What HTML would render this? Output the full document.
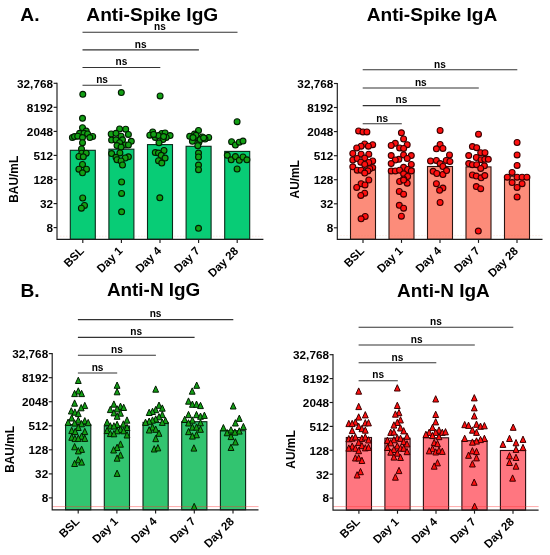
<!DOCTYPE html>
<html lang="en"><head><meta charset="utf-8"><title>Antibody titers</title>
<style>html,body{margin:0;padding:0;background:#fff}svg{display:block}text{font-family:"Liberation Sans", sans-serif;font-weight:bold;fill:#000}.t{font-size:19.4px}.yl{font-size:11.9px}.yt{font-size:11.75px}.xt{font-size:11.5px}.ns{font-size:10.1px}.pl{font-size:19.2px}</style></head><body>
<svg width="550" height="555" viewBox="0 0 550 555">
<rect width="550" height="555" fill="#fff"/>
<g>
<rect x="70.3" y="150.3" width="25" height="89" fill="#08cc76" stroke="#0a2a1a" stroke-width="1.1"/>
<rect x="108.9" y="149.2" width="25" height="90.1" fill="#08cc76" stroke="#0a2a1a" stroke-width="1.1"/>
<rect x="147.5" y="144.6" width="25" height="94.7" fill="#08cc76" stroke="#0a2a1a" stroke-width="1.1"/>
<rect x="186.1" y="146.3" width="25" height="93" fill="#08cc76" stroke="#0a2a1a" stroke-width="1.1"/>
<rect x="224.7" y="151.4" width="25" height="87.9" fill="#08cc76" stroke="#0a2a1a" stroke-width="1.1"/>
<line x1="57" y1="236.2" x2="263.4" y2="236.2" stroke="#e8503a" stroke-width="0.8" stroke-opacity="0.16" stroke-dasharray="1.5 1.5"/>
<circle cx="82.8" cy="94.3" r="2.95" fill="#12a014" stroke="#021c02" stroke-width="1.1"/>
<circle cx="82.5" cy="118.3" r="2.95" fill="#12a014" stroke="#021c02" stroke-width="1.1"/>
<circle cx="82.5" cy="127.7" r="2.95" fill="#12a014" stroke="#021c02" stroke-width="1.1"/>
<circle cx="86.2" cy="131.1" r="2.95" fill="#12a014" stroke="#021c02" stroke-width="1.1"/>
<circle cx="79.6" cy="133.3" r="2.95" fill="#12a014" stroke="#021c02" stroke-width="1.1"/>
<circle cx="84" cy="133.3" r="2.95" fill="#12a014" stroke="#021c02" stroke-width="1.1"/>
<circle cx="87.6" cy="134" r="2.95" fill="#12a014" stroke="#021c02" stroke-width="1.1"/>
<circle cx="92.7" cy="136.5" r="2.95" fill="#12a014" stroke="#021c02" stroke-width="1.1"/>
<circle cx="72.4" cy="137.6" r="2.95" fill="#12a014" stroke="#021c02" stroke-width="1.1"/>
<circle cx="74.5" cy="136.6" r="2.95" fill="#12a014" stroke="#021c02" stroke-width="1.1"/>
<circle cx="77.7" cy="136.2" r="2.95" fill="#12a014" stroke="#021c02" stroke-width="1.1"/>
<circle cx="82.5" cy="137.6" r="2.95" fill="#12a014" stroke="#021c02" stroke-width="1.1"/>
<circle cx="89.8" cy="137.6" r="2.95" fill="#12a014" stroke="#021c02" stroke-width="1.1"/>
<circle cx="82.5" cy="142.7" r="2.95" fill="#12a014" stroke="#021c02" stroke-width="1.1"/>
<circle cx="81.5" cy="149" r="2.95" fill="#12a014" stroke="#021c02" stroke-width="1.1"/>
<circle cx="81.8" cy="153.2" r="2.95" fill="#12a014" stroke="#021c02" stroke-width="1.1"/>
<circle cx="86.2" cy="153.2" r="2.95" fill="#12a014" stroke="#021c02" stroke-width="1.1"/>
<circle cx="78.9" cy="156.5" r="2.95" fill="#12a014" stroke="#021c02" stroke-width="1.1"/>
<circle cx="83.3" cy="156.8" r="2.95" fill="#12a014" stroke="#021c02" stroke-width="1.1"/>
<circle cx="82.5" cy="164.5" r="2.95" fill="#12a014" stroke="#021c02" stroke-width="1.1"/>
<circle cx="78.9" cy="169.2" r="2.95" fill="#12a014" stroke="#021c02" stroke-width="1.1"/>
<circle cx="86.5" cy="169.2" r="2.95" fill="#12a014" stroke="#021c02" stroke-width="1.1"/>
<circle cx="82.5" cy="172.8" r="2.95" fill="#12a014" stroke="#021c02" stroke-width="1.1"/>
<circle cx="82.7" cy="198" r="2.95" fill="#12a014" stroke="#021c02" stroke-width="1.1"/>
<circle cx="84.5" cy="205.4" r="2.95" fill="#12a014" stroke="#021c02" stroke-width="1.1"/>
<circle cx="81.4" cy="208.2" r="2.95" fill="#12a014" stroke="#021c02" stroke-width="1.1"/>
<circle cx="121.3" cy="92.6" r="2.95" fill="#12a014" stroke="#021c02" stroke-width="1.1"/>
<circle cx="119.6" cy="128.9" r="2.95" fill="#12a014" stroke="#021c02" stroke-width="1.1"/>
<circle cx="125.7" cy="129.2" r="2.95" fill="#12a014" stroke="#021c02" stroke-width="1.1"/>
<circle cx="111.2" cy="134" r="2.95" fill="#12a014" stroke="#021c02" stroke-width="1.1"/>
<circle cx="116" cy="133.3" r="2.95" fill="#12a014" stroke="#021c02" stroke-width="1.1"/>
<circle cx="128.4" cy="134.4" r="2.95" fill="#12a014" stroke="#021c02" stroke-width="1.1"/>
<circle cx="121.1" cy="136.2" r="2.95" fill="#12a014" stroke="#021c02" stroke-width="1.1"/>
<circle cx="111.6" cy="140.1" r="2.95" fill="#12a014" stroke="#021c02" stroke-width="1.1"/>
<circle cx="116" cy="139.8" r="2.95" fill="#12a014" stroke="#021c02" stroke-width="1.1"/>
<circle cx="122.5" cy="139.8" r="2.95" fill="#12a014" stroke="#021c02" stroke-width="1.1"/>
<circle cx="131.3" cy="141.3" r="2.95" fill="#12a014" stroke="#021c02" stroke-width="1.1"/>
<circle cx="119.6" cy="142.7" r="2.95" fill="#12a014" stroke="#021c02" stroke-width="1.1"/>
<circle cx="125.5" cy="144.9" r="2.95" fill="#12a014" stroke="#021c02" stroke-width="1.1"/>
<circle cx="117" cy="145.6" r="2.95" fill="#12a014" stroke="#021c02" stroke-width="1.1"/>
<circle cx="121.1" cy="147.1" r="2.95" fill="#12a014" stroke="#021c02" stroke-width="1.1"/>
<circle cx="128.4" cy="144.9" r="2.95" fill="#12a014" stroke="#021c02" stroke-width="1.1"/>
<circle cx="119.9" cy="152.9" r="2.95" fill="#12a014" stroke="#021c02" stroke-width="1.1"/>
<circle cx="111.6" cy="153.6" r="2.95" fill="#12a014" stroke="#021c02" stroke-width="1.1"/>
<circle cx="116" cy="157.3" r="2.95" fill="#12a014" stroke="#021c02" stroke-width="1.1"/>
<circle cx="128.4" cy="156.8" r="2.95" fill="#12a014" stroke="#021c02" stroke-width="1.1"/>
<circle cx="125.2" cy="158" r="2.95" fill="#12a014" stroke="#021c02" stroke-width="1.1"/>
<circle cx="117" cy="159.7" r="2.95" fill="#12a014" stroke="#021c02" stroke-width="1.1"/>
<circle cx="121.1" cy="160.9" r="2.95" fill="#12a014" stroke="#021c02" stroke-width="1.1"/>
<circle cx="122.5" cy="165" r="2.95" fill="#12a014" stroke="#021c02" stroke-width="1.1"/>
<circle cx="121.6" cy="182" r="2.95" fill="#12a014" stroke="#021c02" stroke-width="1.1"/>
<circle cx="121.6" cy="193.4" r="2.95" fill="#12a014" stroke="#021c02" stroke-width="1.1"/>
<circle cx="121.6" cy="211.8" r="2.95" fill="#12a014" stroke="#021c02" stroke-width="1.1"/>
<circle cx="160.1" cy="95.9" r="2.95" fill="#12a014" stroke="#021c02" stroke-width="1.1"/>
<circle cx="152.7" cy="131.9" r="2.95" fill="#12a014" stroke="#021c02" stroke-width="1.1"/>
<circle cx="149.8" cy="135.2" r="2.95" fill="#12a014" stroke="#021c02" stroke-width="1.1"/>
<circle cx="155.3" cy="137.4" r="2.95" fill="#12a014" stroke="#021c02" stroke-width="1.1"/>
<circle cx="161.8" cy="133.4" r="2.95" fill="#12a014" stroke="#021c02" stroke-width="1.1"/>
<circle cx="165.1" cy="133" r="2.95" fill="#12a014" stroke="#021c02" stroke-width="1.1"/>
<circle cx="170.1" cy="135.6" r="2.95" fill="#12a014" stroke="#021c02" stroke-width="1.1"/>
<circle cx="166.2" cy="137.4" r="2.95" fill="#12a014" stroke="#021c02" stroke-width="1.1"/>
<circle cx="162.9" cy="139.5" r="2.95" fill="#12a014" stroke="#021c02" stroke-width="1.1"/>
<circle cx="159" cy="142.8" r="2.95" fill="#12a014" stroke="#021c02" stroke-width="1.1"/>
<circle cx="164" cy="150.5" r="2.95" fill="#12a014" stroke="#021c02" stroke-width="1.1"/>
<circle cx="155.3" cy="152.6" r="2.95" fill="#12a014" stroke="#021c02" stroke-width="1.1"/>
<circle cx="158.5" cy="153.1" r="2.95" fill="#12a014" stroke="#021c02" stroke-width="1.1"/>
<circle cx="161.2" cy="155.3" r="2.95" fill="#12a014" stroke="#021c02" stroke-width="1.1"/>
<circle cx="165.1" cy="158.1" r="2.95" fill="#12a014" stroke="#021c02" stroke-width="1.1"/>
<circle cx="158.5" cy="160.7" r="2.95" fill="#12a014" stroke="#021c02" stroke-width="1.1"/>
<circle cx="161.8" cy="163.1" r="2.95" fill="#12a014" stroke="#021c02" stroke-width="1.1"/>
<circle cx="159.8" cy="197.8" r="2.95" fill="#12a014" stroke="#021c02" stroke-width="1.1"/>
<circle cx="158.3" cy="135.6" r="2.95" fill="#12a014" stroke="#021c02" stroke-width="1.1"/>
<circle cx="153.6" cy="134.4" r="2.95" fill="#12a014" stroke="#021c02" stroke-width="1.1"/>
<circle cx="163.6" cy="136.6" r="2.95" fill="#12a014" stroke="#021c02" stroke-width="1.1"/>
<circle cx="198.5" cy="130.4" r="2.95" fill="#12a014" stroke="#021c02" stroke-width="1.1"/>
<circle cx="194.5" cy="134.1" r="2.95" fill="#12a014" stroke="#021c02" stroke-width="1.1"/>
<circle cx="189.7" cy="136.3" r="2.95" fill="#12a014" stroke="#021c02" stroke-width="1.1"/>
<circle cx="197.2" cy="137.4" r="2.95" fill="#12a014" stroke="#021c02" stroke-width="1.1"/>
<circle cx="202.2" cy="136.9" r="2.95" fill="#12a014" stroke="#021c02" stroke-width="1.1"/>
<circle cx="208.7" cy="137.4" r="2.95" fill="#12a014" stroke="#021c02" stroke-width="1.1"/>
<circle cx="205" cy="139.1" r="2.95" fill="#12a014" stroke="#021c02" stroke-width="1.1"/>
<circle cx="192.4" cy="141.3" r="2.95" fill="#12a014" stroke="#021c02" stroke-width="1.1"/>
<circle cx="198.9" cy="142.2" r="2.95" fill="#12a014" stroke="#021c02" stroke-width="1.1"/>
<circle cx="197.8" cy="145.7" r="2.95" fill="#12a014" stroke="#021c02" stroke-width="1.1"/>
<circle cx="198.5" cy="153.1" r="2.95" fill="#12a014" stroke="#021c02" stroke-width="1.1"/>
<circle cx="198.5" cy="157" r="2.95" fill="#12a014" stroke="#021c02" stroke-width="1.1"/>
<circle cx="198.5" cy="165.1" r="2.95" fill="#12a014" stroke="#021c02" stroke-width="1.1"/>
<circle cx="198.5" cy="169.7" r="2.95" fill="#12a014" stroke="#021c02" stroke-width="1.1"/>
<circle cx="198.5" cy="228.3" r="2.95" fill="#12a014" stroke="#021c02" stroke-width="1.1"/>
<circle cx="196" cy="135.3" r="2.95" fill="#12a014" stroke="#021c02" stroke-width="1.1"/>
<circle cx="200.2" cy="139.6" r="2.95" fill="#12a014" stroke="#021c02" stroke-width="1.1"/>
<circle cx="203.6" cy="137.8" r="2.95" fill="#12a014" stroke="#021c02" stroke-width="1.1"/>
<circle cx="193" cy="137.6" r="2.95" fill="#12a014" stroke="#021c02" stroke-width="1.1"/>
<circle cx="237.1" cy="121.7" r="2.95" fill="#12a014" stroke="#021c02" stroke-width="1.1"/>
<circle cx="231.6" cy="141.7" r="2.95" fill="#12a014" stroke="#021c02" stroke-width="1.1"/>
<circle cx="235.4" cy="145" r="2.95" fill="#12a014" stroke="#021c02" stroke-width="1.1"/>
<circle cx="239.3" cy="142.2" r="2.95" fill="#12a014" stroke="#021c02" stroke-width="1.1"/>
<circle cx="243" cy="141.1" r="2.95" fill="#12a014" stroke="#021c02" stroke-width="1.1"/>
<circle cx="227.3" cy="155.3" r="2.95" fill="#12a014" stroke="#021c02" stroke-width="1.1"/>
<circle cx="231.2" cy="159.8" r="2.95" fill="#12a014" stroke="#021c02" stroke-width="1.1"/>
<circle cx="235.4" cy="156.6" r="2.95" fill="#12a014" stroke="#021c02" stroke-width="1.1"/>
<circle cx="239.3" cy="160.3" r="2.95" fill="#12a014" stroke="#021c02" stroke-width="1.1"/>
<circle cx="243" cy="157" r="2.95" fill="#12a014" stroke="#021c02" stroke-width="1.1"/>
<circle cx="246.9" cy="159.8" r="2.95" fill="#12a014" stroke="#021c02" stroke-width="1.1"/>
<circle cx="237.1" cy="169" r="2.95" fill="#12a014" stroke="#021c02" stroke-width="1.1"/>
<path d="M57 82.7V239.3H263.4" fill="none" stroke="#1c1c1c" stroke-width="1.15"/>
<line x1="53.6" y1="83.3" x2="57" y2="83.3" stroke="#1c1c1c" stroke-width="1.15"/>
<text class="yt" x="53" y="87.6" text-anchor="end">32,768</text>
<line x1="53.6" y1="107.3" x2="57" y2="107.3" stroke="#1c1c1c" stroke-width="1.15"/>
<text class="yt" x="53" y="111.6" text-anchor="end">8192</text>
<line x1="53.6" y1="131.4" x2="57" y2="131.4" stroke="#1c1c1c" stroke-width="1.15"/>
<text class="yt" x="53" y="135.7" text-anchor="end">2048</text>
<line x1="53.6" y1="155.4" x2="57" y2="155.4" stroke="#1c1c1c" stroke-width="1.15"/>
<text class="yt" x="53" y="159.8" text-anchor="end">512</text>
<line x1="53.6" y1="179.5" x2="57" y2="179.5" stroke="#1c1c1c" stroke-width="1.15"/>
<text class="yt" x="53" y="183.8" text-anchor="end">128</text>
<line x1="53.6" y1="203.6" x2="57" y2="203.6" stroke="#1c1c1c" stroke-width="1.15"/>
<text class="yt" x="53" y="207.9" text-anchor="end">32</text>
<line x1="53.6" y1="227.6" x2="57" y2="227.6" stroke="#1c1c1c" stroke-width="1.15"/>
<text class="yt" x="53" y="231.9" text-anchor="end">8</text>
<line x1="82.8" y1="239.3" x2="82.8" y2="242.9" stroke="#1c1c1c" stroke-width="1.15"/>
<text class="xt" transform="translate(84.7 251.6) rotate(-45)" text-anchor="end">BSL</text>
<line x1="121.4" y1="239.3" x2="121.4" y2="242.9" stroke="#1c1c1c" stroke-width="1.15"/>
<text class="xt" transform="translate(123.3 251.6) rotate(-45)" text-anchor="end">Day 1</text>
<line x1="160" y1="239.3" x2="160" y2="242.9" stroke="#1c1c1c" stroke-width="1.15"/>
<text class="xt" transform="translate(161.9 251.6) rotate(-45)" text-anchor="end">Day 4</text>
<line x1="198.6" y1="239.3" x2="198.6" y2="242.9" stroke="#1c1c1c" stroke-width="1.15"/>
<text class="xt" transform="translate(200.5 251.6) rotate(-45)" text-anchor="end">Day 7</text>
<line x1="237.2" y1="239.3" x2="237.2" y2="242.9" stroke="#1c1c1c" stroke-width="1.15"/>
<text class="xt" transform="translate(239.1 251.6) rotate(-45)" text-anchor="end">Day 28</text>
<text class="yl" transform="translate(18.2 179.3) rotate(-90)" text-anchor="middle">BAU/mL</text>
<line x1="82.5" y1="32.2" x2="237.5" y2="32.2" stroke="#333" stroke-width="1.1"/>
<text class="ns" x="160" y="29.9" text-anchor="middle">ns</text>
<line x1="82.5" y1="49.9" x2="198.9" y2="49.9" stroke="#333" stroke-width="1.1"/>
<text class="ns" x="140.7" y="47.6" text-anchor="middle">ns</text>
<line x1="82.5" y1="67.5" x2="160.3" y2="67.5" stroke="#333" stroke-width="1.1"/>
<text class="ns" x="121.4" y="65.2" text-anchor="middle">ns</text>
<line x1="82.5" y1="85.2" x2="121.7" y2="85.2" stroke="#333" stroke-width="1.1"/>
<text class="ns" x="102.1" y="82.9" text-anchor="middle">ns</text>
<text class="t" style="font-size:19.15px" x="152.3" y="20.8" text-anchor="middle">Anti-Spike IgG</text>
<text class="pl" x="20.3" y="20.9">A.</text>
</g>
<g>
<rect x="350.5" y="168.7" width="25" height="70.6" fill="#fc8c7a" stroke="#2a1512" stroke-width="1.1"/>
<rect x="389" y="168.7" width="25" height="70.6" fill="#fc8c7a" stroke="#2a1512" stroke-width="1.1"/>
<rect x="427.5" y="166.5" width="25" height="72.8" fill="#fc8c7a" stroke="#2a1512" stroke-width="1.1"/>
<rect x="466" y="166.9" width="25" height="72.4" fill="#fc8c7a" stroke="#2a1512" stroke-width="1.1"/>
<rect x="504.5" y="176.2" width="25" height="63.1" fill="#fc8c7a" stroke="#2a1512" stroke-width="1.1"/>
<line x1="337.3" y1="235.6" x2="542.5" y2="235.6" stroke="#e8703a" stroke-width="0.8" stroke-opacity="0.16" stroke-dasharray="1.5 1.5"/>
<circle cx="358.6" cy="130.9" r="2.95" fill="#ff1010" stroke="#3a0000" stroke-width="1.1"/>
<circle cx="363" cy="131.9" r="2.95" fill="#ff1010" stroke="#3a0000" stroke-width="1.1"/>
<circle cx="366.9" cy="131.9" r="2.95" fill="#ff1010" stroke="#3a0000" stroke-width="1.1"/>
<circle cx="364.7" cy="144" r="2.95" fill="#ff1010" stroke="#3a0000" stroke-width="1.1"/>
<circle cx="372.7" cy="144.7" r="2.95" fill="#ff1010" stroke="#3a0000" stroke-width="1.1"/>
<circle cx="361.1" cy="146.2" r="2.95" fill="#ff1010" stroke="#3a0000" stroke-width="1.1"/>
<circle cx="368.4" cy="146.2" r="2.95" fill="#ff1010" stroke="#3a0000" stroke-width="1.1"/>
<circle cx="356.7" cy="147.9" r="2.95" fill="#ff1010" stroke="#3a0000" stroke-width="1.1"/>
<circle cx="352.8" cy="153.5" r="2.95" fill="#ff1010" stroke="#3a0000" stroke-width="1.1"/>
<circle cx="361.1" cy="154.2" r="2.95" fill="#ff1010" stroke="#3a0000" stroke-width="1.1"/>
<circle cx="368.8" cy="154.2" r="2.95" fill="#ff1010" stroke="#3a0000" stroke-width="1.1"/>
<circle cx="364.7" cy="158.1" r="2.95" fill="#ff1010" stroke="#3a0000" stroke-width="1.1"/>
<circle cx="352.8" cy="160" r="2.95" fill="#ff1010" stroke="#3a0000" stroke-width="1.1"/>
<circle cx="357.2" cy="158.5" r="2.95" fill="#ff1010" stroke="#3a0000" stroke-width="1.1"/>
<circle cx="372.7" cy="161" r="2.95" fill="#ff1010" stroke="#3a0000" stroke-width="1.1"/>
<circle cx="360.8" cy="162.2" r="2.95" fill="#ff1010" stroke="#3a0000" stroke-width="1.1"/>
<circle cx="368.8" cy="162.5" r="2.95" fill="#ff1010" stroke="#3a0000" stroke-width="1.1"/>
<circle cx="364.7" cy="164.4" r="2.95" fill="#ff1010" stroke="#3a0000" stroke-width="1.1"/>
<circle cx="352.8" cy="166.8" r="2.95" fill="#ff1010" stroke="#3a0000" stroke-width="1.1"/>
<circle cx="372.7" cy="167.6" r="2.95" fill="#ff1010" stroke="#3a0000" stroke-width="1.1"/>
<circle cx="369.8" cy="168.7" r="2.95" fill="#ff1010" stroke="#3a0000" stroke-width="1.1"/>
<circle cx="357.2" cy="170.2" r="2.95" fill="#ff1010" stroke="#3a0000" stroke-width="1.1"/>
<circle cx="361.1" cy="170.2" r="2.95" fill="#ff1010" stroke="#3a0000" stroke-width="1.1"/>
<circle cx="367.9" cy="170.9" r="2.95" fill="#ff1010" stroke="#3a0000" stroke-width="1.1"/>
<circle cx="364.7" cy="173.1" r="2.95" fill="#ff1010" stroke="#3a0000" stroke-width="1.1"/>
<circle cx="368.8" cy="180" r="2.95" fill="#ff1010" stroke="#3a0000" stroke-width="1.1"/>
<circle cx="361.1" cy="183.7" r="2.95" fill="#ff1010" stroke="#3a0000" stroke-width="1.1"/>
<circle cx="365" cy="184.9" r="2.95" fill="#ff1010" stroke="#3a0000" stroke-width="1.1"/>
<circle cx="356.7" cy="187.4" r="2.95" fill="#ff1010" stroke="#3a0000" stroke-width="1.1"/>
<circle cx="364.7" cy="193.2" r="2.95" fill="#ff1010" stroke="#3a0000" stroke-width="1.1"/>
<circle cx="360.8" cy="195.4" r="2.95" fill="#ff1010" stroke="#3a0000" stroke-width="1.1"/>
<circle cx="365.2" cy="216.4" r="2.95" fill="#ff1010" stroke="#3a0000" stroke-width="1.1"/>
<circle cx="361.1" cy="218.8" r="2.95" fill="#ff1010" stroke="#3a0000" stroke-width="1.1"/>
<circle cx="401.4" cy="132.8" r="2.95" fill="#ff1010" stroke="#3a0000" stroke-width="1.1"/>
<circle cx="403.6" cy="138.9" r="2.95" fill="#ff1010" stroke="#3a0000" stroke-width="1.1"/>
<circle cx="395.3" cy="143.3" r="2.95" fill="#ff1010" stroke="#3a0000" stroke-width="1.1"/>
<circle cx="391.2" cy="145.5" r="2.95" fill="#ff1010" stroke="#3a0000" stroke-width="1.1"/>
<circle cx="407.2" cy="144.7" r="2.95" fill="#ff1010" stroke="#3a0000" stroke-width="1.1"/>
<circle cx="399.6" cy="147.9" r="2.95" fill="#ff1010" stroke="#3a0000" stroke-width="1.1"/>
<circle cx="403.6" cy="148.4" r="2.95" fill="#ff1010" stroke="#3a0000" stroke-width="1.1"/>
<circle cx="391.2" cy="155.6" r="2.95" fill="#ff1010" stroke="#3a0000" stroke-width="1.1"/>
<circle cx="403.6" cy="154.9" r="2.95" fill="#ff1010" stroke="#3a0000" stroke-width="1.1"/>
<circle cx="411.3" cy="155.6" r="2.95" fill="#ff1010" stroke="#3a0000" stroke-width="1.1"/>
<circle cx="398.9" cy="159.3" r="2.95" fill="#ff1010" stroke="#3a0000" stroke-width="1.1"/>
<circle cx="395.3" cy="160" r="2.95" fill="#ff1010" stroke="#3a0000" stroke-width="1.1"/>
<circle cx="407.2" cy="158.5" r="2.95" fill="#ff1010" stroke="#3a0000" stroke-width="1.1"/>
<circle cx="391.2" cy="163.6" r="2.95" fill="#ff1010" stroke="#3a0000" stroke-width="1.1"/>
<circle cx="411.3" cy="164.4" r="2.95" fill="#ff1010" stroke="#3a0000" stroke-width="1.1"/>
<circle cx="403.6" cy="167.3" r="2.95" fill="#ff1010" stroke="#3a0000" stroke-width="1.1"/>
<circle cx="391.2" cy="170.9" r="2.95" fill="#ff1010" stroke="#3a0000" stroke-width="1.1"/>
<circle cx="395.3" cy="170.9" r="2.95" fill="#ff1010" stroke="#3a0000" stroke-width="1.1"/>
<circle cx="399.6" cy="170.2" r="2.95" fill="#ff1010" stroke="#3a0000" stroke-width="1.1"/>
<circle cx="407.6" cy="169.5" r="2.95" fill="#ff1010" stroke="#3a0000" stroke-width="1.1"/>
<circle cx="411.3" cy="170.9" r="2.95" fill="#ff1010" stroke="#3a0000" stroke-width="1.1"/>
<circle cx="403.6" cy="173.8" r="2.95" fill="#ff1010" stroke="#3a0000" stroke-width="1.1"/>
<circle cx="407.6" cy="176.4" r="2.95" fill="#ff1010" stroke="#3a0000" stroke-width="1.1"/>
<circle cx="403.6" cy="178.9" r="2.95" fill="#ff1010" stroke="#3a0000" stroke-width="1.1"/>
<circle cx="399.6" cy="181.5" r="2.95" fill="#ff1010" stroke="#3a0000" stroke-width="1.1"/>
<circle cx="407.2" cy="183.2" r="2.95" fill="#ff1010" stroke="#3a0000" stroke-width="1.1"/>
<circle cx="403.6" cy="180.1" r="2.95" fill="#ff1010" stroke="#3a0000" stroke-width="1.1"/>
<circle cx="399.3" cy="191.4" r="2.95" fill="#ff1010" stroke="#3a0000" stroke-width="1.1"/>
<circle cx="403.6" cy="194.2" r="2.95" fill="#ff1010" stroke="#3a0000" stroke-width="1.1"/>
<circle cx="399.3" cy="205.3" r="2.95" fill="#ff1010" stroke="#3a0000" stroke-width="1.1"/>
<circle cx="403.6" cy="208.2" r="2.95" fill="#ff1010" stroke="#3a0000" stroke-width="1.1"/>
<circle cx="401.4" cy="216.2" r="2.95" fill="#ff1010" stroke="#3a0000" stroke-width="1.1"/>
<circle cx="440.1" cy="130.5" r="2.95" fill="#ff1010" stroke="#3a0000" stroke-width="1.1"/>
<circle cx="440.1" cy="144.4" r="2.95" fill="#ff1010" stroke="#3a0000" stroke-width="1.1"/>
<circle cx="436.4" cy="148.8" r="2.95" fill="#ff1010" stroke="#3a0000" stroke-width="1.1"/>
<circle cx="442.9" cy="148.4" r="2.95" fill="#ff1010" stroke="#3a0000" stroke-width="1.1"/>
<circle cx="449.5" cy="154.9" r="2.95" fill="#ff1010" stroke="#3a0000" stroke-width="1.1"/>
<circle cx="430.5" cy="161" r="2.95" fill="#ff1010" stroke="#3a0000" stroke-width="1.1"/>
<circle cx="436.4" cy="160.4" r="2.95" fill="#ff1010" stroke="#3a0000" stroke-width="1.1"/>
<circle cx="440.1" cy="163.6" r="2.95" fill="#ff1010" stroke="#3a0000" stroke-width="1.1"/>
<circle cx="446.2" cy="160.4" r="2.95" fill="#ff1010" stroke="#3a0000" stroke-width="1.1"/>
<circle cx="449.9" cy="161.5" r="2.95" fill="#ff1010" stroke="#3a0000" stroke-width="1.1"/>
<circle cx="442.9" cy="166.5" r="2.95" fill="#ff1010" stroke="#3a0000" stroke-width="1.1"/>
<circle cx="433.1" cy="171.3" r="2.95" fill="#ff1010" stroke="#3a0000" stroke-width="1.1"/>
<circle cx="436.8" cy="173.5" r="2.95" fill="#ff1010" stroke="#3a0000" stroke-width="1.1"/>
<circle cx="442.9" cy="174.5" r="2.95" fill="#ff1010" stroke="#3a0000" stroke-width="1.1"/>
<circle cx="446.6" cy="170.6" r="2.95" fill="#ff1010" stroke="#3a0000" stroke-width="1.1"/>
<circle cx="436.4" cy="183.7" r="2.95" fill="#ff1010" stroke="#3a0000" stroke-width="1.1"/>
<circle cx="442.9" cy="188.1" r="2.95" fill="#ff1010" stroke="#3a0000" stroke-width="1.1"/>
<circle cx="439.6" cy="190.3" r="2.95" fill="#ff1010" stroke="#3a0000" stroke-width="1.1"/>
<circle cx="440.1" cy="202.5" r="2.95" fill="#ff1010" stroke="#3a0000" stroke-width="1.1"/>
<circle cx="478.5" cy="134.2" r="2.95" fill="#ff1010" stroke="#3a0000" stroke-width="1.1"/>
<circle cx="472.4" cy="146.6" r="2.95" fill="#ff1010" stroke="#3a0000" stroke-width="1.1"/>
<circle cx="476.7" cy="147.7" r="2.95" fill="#ff1010" stroke="#3a0000" stroke-width="1.1"/>
<circle cx="480.7" cy="152.7" r="2.95" fill="#ff1010" stroke="#3a0000" stroke-width="1.1"/>
<circle cx="485" cy="152.7" r="2.95" fill="#ff1010" stroke="#3a0000" stroke-width="1.1"/>
<circle cx="468.7" cy="155.6" r="2.95" fill="#ff1010" stroke="#3a0000" stroke-width="1.1"/>
<circle cx="476.3" cy="157.5" r="2.95" fill="#ff1010" stroke="#3a0000" stroke-width="1.1"/>
<circle cx="481.1" cy="159.7" r="2.95" fill="#ff1010" stroke="#3a0000" stroke-width="1.1"/>
<circle cx="484.8" cy="159.3" r="2.95" fill="#ff1010" stroke="#3a0000" stroke-width="1.1"/>
<circle cx="488.3" cy="159.3" r="2.95" fill="#ff1010" stroke="#3a0000" stroke-width="1.1"/>
<circle cx="468.7" cy="163.6" r="2.95" fill="#ff1010" stroke="#3a0000" stroke-width="1.1"/>
<circle cx="472.4" cy="164.7" r="2.95" fill="#ff1010" stroke="#3a0000" stroke-width="1.1"/>
<circle cx="476.7" cy="164.7" r="2.95" fill="#ff1010" stroke="#3a0000" stroke-width="1.1"/>
<circle cx="484.4" cy="165.8" r="2.95" fill="#ff1010" stroke="#3a0000" stroke-width="1.1"/>
<circle cx="480.7" cy="168.4" r="2.95" fill="#ff1010" stroke="#3a0000" stroke-width="1.1"/>
<circle cx="472.4" cy="175" r="2.95" fill="#ff1010" stroke="#3a0000" stroke-width="1.1"/>
<circle cx="476.3" cy="176.1" r="2.95" fill="#ff1010" stroke="#3a0000" stroke-width="1.1"/>
<circle cx="481.1" cy="177.8" r="2.95" fill="#ff1010" stroke="#3a0000" stroke-width="1.1"/>
<circle cx="484.8" cy="175.6" r="2.95" fill="#ff1010" stroke="#3a0000" stroke-width="1.1"/>
<circle cx="476.3" cy="186.6" r="2.95" fill="#ff1010" stroke="#3a0000" stroke-width="1.1"/>
<circle cx="480.7" cy="188.7" r="2.95" fill="#ff1010" stroke="#3a0000" stroke-width="1.1"/>
<circle cx="478.3" cy="231.1" r="2.95" fill="#ff1010" stroke="#3a0000" stroke-width="1.1"/>
<circle cx="517.1" cy="142.5" r="2.95" fill="#ff1010" stroke="#3a0000" stroke-width="1.1"/>
<circle cx="517.1" cy="154.9" r="2.95" fill="#ff1010" stroke="#3a0000" stroke-width="1.1"/>
<circle cx="517.1" cy="165.4" r="2.95" fill="#ff1010" stroke="#3a0000" stroke-width="1.1"/>
<circle cx="512.1" cy="172.4" r="2.95" fill="#ff1010" stroke="#3a0000" stroke-width="1.1"/>
<circle cx="507.3" cy="177.2" r="2.95" fill="#ff1010" stroke="#3a0000" stroke-width="1.1"/>
<circle cx="517.1" cy="177.2" r="2.95" fill="#ff1010" stroke="#3a0000" stroke-width="1.1"/>
<circle cx="522.1" cy="177.2" r="2.95" fill="#ff1010" stroke="#3a0000" stroke-width="1.1"/>
<circle cx="526.9" cy="177.2" r="2.95" fill="#ff1010" stroke="#3a0000" stroke-width="1.1"/>
<circle cx="512.1" cy="182.6" r="2.95" fill="#ff1010" stroke="#3a0000" stroke-width="1.1"/>
<circle cx="522.1" cy="183.7" r="2.95" fill="#ff1010" stroke="#3a0000" stroke-width="1.1"/>
<circle cx="517.1" cy="187.4" r="2.95" fill="#ff1010" stroke="#3a0000" stroke-width="1.1"/>
<circle cx="517.1" cy="196.9" r="2.95" fill="#ff1010" stroke="#3a0000" stroke-width="1.1"/>
<path d="M337.3 82.9V239.3H542.5" fill="none" stroke="#1c1c1c" stroke-width="1.15"/>
<line x1="333.9" y1="83.5" x2="337.3" y2="83.5" stroke="#1c1c1c" stroke-width="1.15"/>
<text class="yt" x="333.3" y="87.8" text-anchor="end">32,768</text>
<line x1="333.9" y1="107.5" x2="337.3" y2="107.5" stroke="#1c1c1c" stroke-width="1.15"/>
<text class="yt" x="333.3" y="111.8" text-anchor="end">8192</text>
<line x1="333.9" y1="131.6" x2="337.3" y2="131.6" stroke="#1c1c1c" stroke-width="1.15"/>
<text class="yt" x="333.3" y="135.9" text-anchor="end">2048</text>
<line x1="333.9" y1="155.7" x2="337.3" y2="155.7" stroke="#1c1c1c" stroke-width="1.15"/>
<text class="yt" x="333.3" y="160" text-anchor="end">512</text>
<line x1="333.9" y1="179.7" x2="337.3" y2="179.7" stroke="#1c1c1c" stroke-width="1.15"/>
<text class="yt" x="333.3" y="184" text-anchor="end">128</text>
<line x1="333.9" y1="203.8" x2="337.3" y2="203.8" stroke="#1c1c1c" stroke-width="1.15"/>
<text class="yt" x="333.3" y="208.1" text-anchor="end">32</text>
<line x1="333.9" y1="227.8" x2="337.3" y2="227.8" stroke="#1c1c1c" stroke-width="1.15"/>
<text class="yt" x="333.3" y="232.1" text-anchor="end">8</text>
<line x1="363" y1="239.3" x2="363" y2="242.9" stroke="#1c1c1c" stroke-width="1.15"/>
<text class="xt" transform="translate(364.9 251.6) rotate(-45)" text-anchor="end">BSL</text>
<line x1="401.5" y1="239.3" x2="401.5" y2="242.9" stroke="#1c1c1c" stroke-width="1.15"/>
<text class="xt" transform="translate(403.4 251.6) rotate(-45)" text-anchor="end">Day 1</text>
<line x1="440" y1="239.3" x2="440" y2="242.9" stroke="#1c1c1c" stroke-width="1.15"/>
<text class="xt" transform="translate(441.9 251.6) rotate(-45)" text-anchor="end">Day 4</text>
<line x1="478.5" y1="239.3" x2="478.5" y2="242.9" stroke="#1c1c1c" stroke-width="1.15"/>
<text class="xt" transform="translate(480.4 251.6) rotate(-45)" text-anchor="end">Day 7</text>
<line x1="517" y1="239.3" x2="517" y2="242.9" stroke="#1c1c1c" stroke-width="1.15"/>
<text class="xt" transform="translate(518.9 251.6) rotate(-45)" text-anchor="end">Day 28</text>
<text class="yl" transform="translate(299.2 179.3) rotate(-90)" text-anchor="middle">AU/mL</text>
<line x1="362.7" y1="69.8" x2="517.3" y2="69.8" stroke="#333" stroke-width="1.1"/>
<text class="ns" x="440" y="67.5" text-anchor="middle">ns</text>
<line x1="362.7" y1="88" x2="478.8" y2="88" stroke="#333" stroke-width="1.1"/>
<text class="ns" x="420.8" y="85.7" text-anchor="middle">ns</text>
<line x1="362.7" y1="105.6" x2="440.3" y2="105.6" stroke="#333" stroke-width="1.1"/>
<text class="ns" x="401.5" y="103.3" text-anchor="middle">ns</text>
<line x1="362.7" y1="123.8" x2="401.8" y2="123.8" stroke="#333" stroke-width="1.1"/>
<text class="ns" x="382.2" y="121.5" text-anchor="middle">ns</text>
<text class="t" style="font-size:19.1px" x="432" y="20.6" text-anchor="middle">Anti-Spike IgA</text>
</g>
<g>
<rect x="65.6" y="424.6" width="25.2" height="85.2" fill="#32c470" stroke="#0a2416" stroke-width="1.1"/>
<rect x="104.3" y="426" width="25.2" height="83.8" fill="#32c470" stroke="#0a2416" stroke-width="1.1"/>
<rect x="143" y="422.4" width="25.2" height="87.4" fill="#32c470" stroke="#0a2416" stroke-width="1.1"/>
<rect x="181.7" y="421.7" width="25.2" height="88.1" fill="#32c470" stroke="#0a2416" stroke-width="1.1"/>
<rect x="220.4" y="430.7" width="25.2" height="79.1" fill="#32c470" stroke="#0a2416" stroke-width="1.1"/>
<line x1="52.2" y1="506.6" x2="258.5" y2="506.6" stroke="#ff2a2a" stroke-width="0.8" stroke-opacity="0.5"/>
<path d="M78.3 377.2L81.2 383.5L75.4 383.5Z" fill="#12a014" stroke="#021c02" stroke-width="1.0" stroke-linejoin="miter"/>
<path d="M78.3 387.8L81.2 394.1L75.4 394.1Z" fill="#12a014" stroke="#021c02" stroke-width="1.0" stroke-linejoin="miter"/>
<path d="M74.6 390.3L77.5 396.6L71.7 396.6Z" fill="#12a014" stroke="#021c02" stroke-width="1.0" stroke-linejoin="miter"/>
<path d="M81.6 390.3L84.5 396.6L78.7 396.6Z" fill="#12a014" stroke="#021c02" stroke-width="1.0" stroke-linejoin="miter"/>
<path d="M74.6 399.9L77.5 406.2L71.7 406.2Z" fill="#12a014" stroke="#021c02" stroke-width="1.0" stroke-linejoin="miter"/>
<path d="M84.8 402.3L87.7 408.6L81.9 408.6Z" fill="#12a014" stroke="#021c02" stroke-width="1.0" stroke-linejoin="miter"/>
<path d="M81.2 404.5L84.1 410.8L78.3 410.8Z" fill="#12a014" stroke="#021c02" stroke-width="1.0" stroke-linejoin="miter"/>
<path d="M71.3 407.7L74.2 414L68.4 414Z" fill="#12a014" stroke="#021c02" stroke-width="1.0" stroke-linejoin="miter"/>
<path d="M74.9 408.9L77.8 415.2L72 415.2Z" fill="#12a014" stroke="#021c02" stroke-width="1.0" stroke-linejoin="miter"/>
<path d="M78.3 410.3L81.2 416.6L75.4 416.6Z" fill="#12a014" stroke="#021c02" stroke-width="1.0" stroke-linejoin="miter"/>
<path d="M71.7 414.7L74.6 421L68.8 421Z" fill="#12a014" stroke="#021c02" stroke-width="1.0" stroke-linejoin="miter"/>
<path d="M78.3 416.9L81.2 423.2L75.4 423.2Z" fill="#12a014" stroke="#021c02" stroke-width="1.0" stroke-linejoin="miter"/>
<path d="M84.8 417.6L87.7 423.9L81.9 423.9Z" fill="#12a014" stroke="#021c02" stroke-width="1.0" stroke-linejoin="miter"/>
<path d="M68.1 419.1L71 425.4L65.2 425.4Z" fill="#12a014" stroke="#021c02" stroke-width="1.0" stroke-linejoin="miter"/>
<path d="M74.6 419.8L77.5 426.1L71.7 426.1Z" fill="#12a014" stroke="#021c02" stroke-width="1.0" stroke-linejoin="miter"/>
<path d="M81.6 420.5L84.5 426.8L78.7 426.8Z" fill="#12a014" stroke="#021c02" stroke-width="1.0" stroke-linejoin="miter"/>
<path d="M88.2 419.4L91.1 425.7L85.3 425.7Z" fill="#12a014" stroke="#021c02" stroke-width="1.0" stroke-linejoin="miter"/>
<path d="M78.3 424.2L81.2 430.5L75.4 430.5Z" fill="#12a014" stroke="#021c02" stroke-width="1.0" stroke-linejoin="miter"/>
<path d="M71.7 427.3L74.6 433.6L68.8 433.6Z" fill="#12a014" stroke="#021c02" stroke-width="1.0" stroke-linejoin="miter"/>
<path d="M84.8 428.3L87.7 434.6L81.9 434.6Z" fill="#12a014" stroke="#021c02" stroke-width="1.0" stroke-linejoin="miter"/>
<path d="M75.2 428.3L78.1 434.6L72.3 434.6Z" fill="#12a014" stroke="#021c02" stroke-width="1.0" stroke-linejoin="miter"/>
<path d="M81.6 433L84.5 439.3L78.7 439.3Z" fill="#12a014" stroke="#021c02" stroke-width="1.0" stroke-linejoin="miter"/>
<path d="M71.7 434L74.6 440.3L68.8 440.3Z" fill="#12a014" stroke="#021c02" stroke-width="1.0" stroke-linejoin="miter"/>
<path d="M74.9 435.3L77.8 441.6L72 441.6Z" fill="#12a014" stroke="#021c02" stroke-width="1.0" stroke-linejoin="miter"/>
<path d="M78.3 435.1L81.2 441.4L75.4 441.4Z" fill="#12a014" stroke="#021c02" stroke-width="1.0" stroke-linejoin="miter"/>
<path d="M84.8 435.1L87.7 441.4L81.9 441.4Z" fill="#12a014" stroke="#021c02" stroke-width="1.0" stroke-linejoin="miter"/>
<path d="M74.6 443.5L77.5 449.8L71.7 449.8Z" fill="#12a014" stroke="#021c02" stroke-width="1.0" stroke-linejoin="miter"/>
<path d="M81.6 446.1L84.5 452.4L78.7 452.4Z" fill="#12a014" stroke="#021c02" stroke-width="1.0" stroke-linejoin="miter"/>
<path d="M78.3 447.6L81.2 453.9L75.4 453.9Z" fill="#12a014" stroke="#021c02" stroke-width="1.0" stroke-linejoin="miter"/>
<path d="M78.3 456.6L81.2 462.9L75.4 462.9Z" fill="#12a014" stroke="#021c02" stroke-width="1.0" stroke-linejoin="miter"/>
<path d="M81.6 458.8L84.5 465.1L78.7 465.1Z" fill="#12a014" stroke="#021c02" stroke-width="1.0" stroke-linejoin="miter"/>
<path d="M74.6 460.2L77.5 466.5L71.7 466.5Z" fill="#12a014" stroke="#021c02" stroke-width="1.0" stroke-linejoin="miter"/>
<path d="M117.1 382L120 388.3L114.2 388.3Z" fill="#12a014" stroke="#021c02" stroke-width="1.0" stroke-linejoin="miter"/>
<path d="M117.1 388.5L120 394.8L114.2 394.8Z" fill="#12a014" stroke="#021c02" stroke-width="1.0" stroke-linejoin="miter"/>
<path d="M113.9 400.9L116.8 407.2L111 407.2Z" fill="#12a014" stroke="#021c02" stroke-width="1.0" stroke-linejoin="miter"/>
<path d="M120.5 403.1L123.4 409.4L117.6 409.4Z" fill="#12a014" stroke="#021c02" stroke-width="1.0" stroke-linejoin="miter"/>
<path d="M123.7 404.2L126.6 410.5L120.8 410.5Z" fill="#12a014" stroke="#021c02" stroke-width="1.0" stroke-linejoin="miter"/>
<path d="M110.3 406.3L113.2 412.6L107.4 412.6Z" fill="#12a014" stroke="#021c02" stroke-width="1.0" stroke-linejoin="miter"/>
<path d="M117.1 405.7L120 412L114.2 412Z" fill="#12a014" stroke="#021c02" stroke-width="1.0" stroke-linejoin="miter"/>
<path d="M113.9 409.6L116.8 415.9L111 415.9Z" fill="#12a014" stroke="#021c02" stroke-width="1.0" stroke-linejoin="miter"/>
<path d="M120.5 409.9L123.4 416.2L117.6 416.2Z" fill="#12a014" stroke="#021c02" stroke-width="1.0" stroke-linejoin="miter"/>
<path d="M117.1 413L120 419.3L114.2 419.3Z" fill="#12a014" stroke="#021c02" stroke-width="1.0" stroke-linejoin="miter"/>
<path d="M127 416.9L129.9 423.2L124.1 423.2Z" fill="#12a014" stroke="#021c02" stroke-width="1.0" stroke-linejoin="miter"/>
<path d="M107.1 419.1L110 425.4L104.2 425.4Z" fill="#12a014" stroke="#021c02" stroke-width="1.0" stroke-linejoin="miter"/>
<path d="M117.1 421.2L120 427.5L114.2 427.5Z" fill="#12a014" stroke="#021c02" stroke-width="1.0" stroke-linejoin="miter"/>
<path d="M123.4 420.8L126.3 427.1L120.5 427.1Z" fill="#12a014" stroke="#021c02" stroke-width="1.0" stroke-linejoin="miter"/>
<path d="M110.3 422.7L113.2 429L107.4 429Z" fill="#12a014" stroke="#021c02" stroke-width="1.0" stroke-linejoin="miter"/>
<path d="M113.9 422.7L116.8 429L111 429Z" fill="#12a014" stroke="#021c02" stroke-width="1.0" stroke-linejoin="miter"/>
<path d="M127 424.2L129.9 430.5L124.1 430.5Z" fill="#12a014" stroke="#021c02" stroke-width="1.0" stroke-linejoin="miter"/>
<path d="M107.1 427.3L110 433.6L104.2 433.6Z" fill="#12a014" stroke="#021c02" stroke-width="1.0" stroke-linejoin="miter"/>
<path d="M120.5 426.3L123.4 432.6L117.6 432.6Z" fill="#12a014" stroke="#021c02" stroke-width="1.0" stroke-linejoin="miter"/>
<path d="M117.1 427.5L120 433.8L114.2 433.8Z" fill="#12a014" stroke="#021c02" stroke-width="1.0" stroke-linejoin="miter"/>
<path d="M123.6 427.5L126.5 433.8L120.7 433.8Z" fill="#12a014" stroke="#021c02" stroke-width="1.0" stroke-linejoin="miter"/>
<path d="M110.3 430.3L113.2 436.6L107.4 436.6Z" fill="#12a014" stroke="#021c02" stroke-width="1.0" stroke-linejoin="miter"/>
<path d="M113.9 430.5L116.8 436.8L111 436.8Z" fill="#12a014" stroke="#021c02" stroke-width="1.0" stroke-linejoin="miter"/>
<path d="M127 431.7L129.9 438L124.1 438Z" fill="#12a014" stroke="#021c02" stroke-width="1.0" stroke-linejoin="miter"/>
<path d="M120.5 440.9L123.4 447.2L117.6 447.2Z" fill="#12a014" stroke="#021c02" stroke-width="1.0" stroke-linejoin="miter"/>
<path d="M117.1 444.2L120 450.5L114.2 450.5Z" fill="#12a014" stroke="#021c02" stroke-width="1.0" stroke-linejoin="miter"/>
<path d="M113.6 446.7L116.5 453L110.7 453Z" fill="#12a014" stroke="#021c02" stroke-width="1.0" stroke-linejoin="miter"/>
<path d="M120.5 451.8L123.4 458.1L117.6 458.1Z" fill="#12a014" stroke="#021c02" stroke-width="1.0" stroke-linejoin="miter"/>
<path d="M117.1 454.9L120 461.2L114.2 461.2Z" fill="#12a014" stroke="#021c02" stroke-width="1.0" stroke-linejoin="miter"/>
<path d="M117.1 470.1L120 476.4L114.2 476.4Z" fill="#12a014" stroke="#021c02" stroke-width="1.0" stroke-linejoin="miter"/>
<path d="M155.7 385.9L158.6 392.2L152.8 392.2Z" fill="#12a014" stroke="#021c02" stroke-width="1.0" stroke-linejoin="miter"/>
<path d="M159 402L161.9 408.3L156.1 408.3Z" fill="#12a014" stroke="#021c02" stroke-width="1.0" stroke-linejoin="miter"/>
<path d="M162.3 404.9L165.2 411.2L159.4 411.2Z" fill="#12a014" stroke="#021c02" stroke-width="1.0" stroke-linejoin="miter"/>
<path d="M155.7 406.4L158.6 412.7L152.8 412.7Z" fill="#12a014" stroke="#021c02" stroke-width="1.0" stroke-linejoin="miter"/>
<path d="M152.5 408.2L155.4 414.5L149.6 414.5Z" fill="#12a014" stroke="#021c02" stroke-width="1.0" stroke-linejoin="miter"/>
<path d="M149.2 409.2L152.1 415.5L146.3 415.5Z" fill="#12a014" stroke="#021c02" stroke-width="1.0" stroke-linejoin="miter"/>
<path d="M162.3 411.4L165.2 417.7L159.4 417.7Z" fill="#12a014" stroke="#021c02" stroke-width="1.0" stroke-linejoin="miter"/>
<path d="M159 413.6L161.9 419.9L156.1 419.9Z" fill="#12a014" stroke="#021c02" stroke-width="1.0" stroke-linejoin="miter"/>
<path d="M155.7 415.8L158.6 422.1L152.8 422.1Z" fill="#12a014" stroke="#021c02" stroke-width="1.0" stroke-linejoin="miter"/>
<path d="M152.5 416.9L155.4 423.2L149.6 423.2Z" fill="#12a014" stroke="#021c02" stroke-width="1.0" stroke-linejoin="miter"/>
<path d="M149.2 418L152.1 424.3L146.3 424.3Z" fill="#12a014" stroke="#021c02" stroke-width="1.0" stroke-linejoin="miter"/>
<path d="M145.5 419.1L148.4 425.4L142.6 425.4Z" fill="#12a014" stroke="#021c02" stroke-width="1.0" stroke-linejoin="miter"/>
<path d="M165.5 417.3L168.4 423.6L162.6 423.6Z" fill="#12a014" stroke="#021c02" stroke-width="1.0" stroke-linejoin="miter"/>
<path d="M162.3 419.1L165.2 425.4L159.4 425.4Z" fill="#12a014" stroke="#021c02" stroke-width="1.0" stroke-linejoin="miter"/>
<path d="M152.5 423.9L155.4 430.2L149.6 430.2Z" fill="#12a014" stroke="#021c02" stroke-width="1.0" stroke-linejoin="miter"/>
<path d="M149.2 426.7L152.1 433L146.3 433Z" fill="#12a014" stroke="#021c02" stroke-width="1.0" stroke-linejoin="miter"/>
<path d="M155.7 426L158.6 432.3L152.8 432.3Z" fill="#12a014" stroke="#021c02" stroke-width="1.0" stroke-linejoin="miter"/>
<path d="M159 430L161.9 436.3L156.1 436.3Z" fill="#12a014" stroke="#021c02" stroke-width="1.0" stroke-linejoin="miter"/>
<path d="M155.7 435.4L158.6 441.7L152.8 441.7Z" fill="#12a014" stroke="#021c02" stroke-width="1.0" stroke-linejoin="miter"/>
<path d="M154.2 445.7L157.1 452L151.3 452Z" fill="#12a014" stroke="#021c02" stroke-width="1.0" stroke-linejoin="miter"/>
<path d="M157.9 444.6L160.8 450.9L155 450.9Z" fill="#12a014" stroke="#021c02" stroke-width="1.0" stroke-linejoin="miter"/>
<path d="M196.7 382L199.6 388.3L193.8 388.3Z" fill="#12a014" stroke="#021c02" stroke-width="1.0" stroke-linejoin="miter"/>
<path d="M192.2 387.9L195.1 394.2L189.3 394.2Z" fill="#12a014" stroke="#021c02" stroke-width="1.0" stroke-linejoin="miter"/>
<path d="M188.5 397.9L191.4 404.2L185.6 404.2Z" fill="#12a014" stroke="#021c02" stroke-width="1.0" stroke-linejoin="miter"/>
<path d="M192.4 401L195.3 407.3L189.5 407.3Z" fill="#12a014" stroke="#021c02" stroke-width="1.0" stroke-linejoin="miter"/>
<path d="M196.5 401L199.4 407.3L193.6 407.3Z" fill="#12a014" stroke="#021c02" stroke-width="1.0" stroke-linejoin="miter"/>
<path d="M200.5 402.3L203.4 408.6L197.6 408.6Z" fill="#12a014" stroke="#021c02" stroke-width="1.0" stroke-linejoin="miter"/>
<path d="M188.5 411.4L191.4 417.7L185.6 417.7Z" fill="#12a014" stroke="#021c02" stroke-width="1.0" stroke-linejoin="miter"/>
<path d="M196.5 411.4L199.4 417.7L193.6 417.7Z" fill="#12a014" stroke="#021c02" stroke-width="1.0" stroke-linejoin="miter"/>
<path d="M200.5 413L203.4 419.3L197.6 419.3Z" fill="#12a014" stroke="#021c02" stroke-width="1.0" stroke-linejoin="miter"/>
<path d="M204.4 412.1L207.3 418.4L201.5 418.4Z" fill="#12a014" stroke="#021c02" stroke-width="1.0" stroke-linejoin="miter"/>
<path d="M184.7 416.2L187.6 422.5L181.8 422.5Z" fill="#12a014" stroke="#021c02" stroke-width="1.0" stroke-linejoin="miter"/>
<path d="M192.4 416.9L195.3 423.2L189.5 423.2Z" fill="#12a014" stroke="#021c02" stroke-width="1.0" stroke-linejoin="miter"/>
<path d="M188.5 419.7L191.4 426L185.6 426Z" fill="#12a014" stroke="#021c02" stroke-width="1.0" stroke-linejoin="miter"/>
<path d="M200.5 419.5L203.4 425.8L197.6 425.8Z" fill="#12a014" stroke="#021c02" stroke-width="1.0" stroke-linejoin="miter"/>
<path d="M192.4 423.9L195.3 430.2L189.5 430.2Z" fill="#12a014" stroke="#021c02" stroke-width="1.0" stroke-linejoin="miter"/>
<path d="M196.5 423.9L199.4 430.2L193.6 430.2Z" fill="#12a014" stroke="#021c02" stroke-width="1.0" stroke-linejoin="miter"/>
<path d="M200.5 426L203.4 432.3L197.6 432.3Z" fill="#12a014" stroke="#021c02" stroke-width="1.0" stroke-linejoin="miter"/>
<path d="M188.5 428.4L191.4 434.7L185.6 434.7Z" fill="#12a014" stroke="#021c02" stroke-width="1.0" stroke-linejoin="miter"/>
<path d="M196.5 431.5L199.4 437.8L193.6 437.8Z" fill="#12a014" stroke="#021c02" stroke-width="1.0" stroke-linejoin="miter"/>
<path d="M192.4 432.8L195.3 439.1L189.5 439.1Z" fill="#12a014" stroke="#021c02" stroke-width="1.0" stroke-linejoin="miter"/>
<path d="M193.9 444.8L196.8 451.1L191 451.1Z" fill="#12a014" stroke="#021c02" stroke-width="1.0" stroke-linejoin="miter"/>
<path d="M194.2 503.3L197.1 509.6L191.3 509.6Z" fill="#12a014" stroke="#021c02" stroke-width="1.0" stroke-linejoin="miter"/>
<path d="M233.2 402.7L236.1 409L230.3 409Z" fill="#12a014" stroke="#021c02" stroke-width="1.0" stroke-linejoin="miter"/>
<path d="M239.3 415.1L242.2 421.4L236.4 421.4Z" fill="#12a014" stroke="#021c02" stroke-width="1.0" stroke-linejoin="miter"/>
<path d="M235.4 419.7L238.3 426L232.5 426Z" fill="#12a014" stroke="#021c02" stroke-width="1.0" stroke-linejoin="miter"/>
<path d="M223.4 424.5L226.3 430.8L220.5 430.8Z" fill="#12a014" stroke="#021c02" stroke-width="1.0" stroke-linejoin="miter"/>
<path d="M243.4 423.4L246.3 429.7L240.5 429.7Z" fill="#12a014" stroke="#021c02" stroke-width="1.0" stroke-linejoin="miter"/>
<path d="M231 426.7L233.9 433L228.1 433Z" fill="#12a014" stroke="#021c02" stroke-width="1.0" stroke-linejoin="miter"/>
<path d="M239.3 427.8L242.2 434.1L236.4 434.1Z" fill="#12a014" stroke="#021c02" stroke-width="1.0" stroke-linejoin="miter"/>
<path d="M227.1 429.5L230 435.8L224.2 435.8Z" fill="#12a014" stroke="#021c02" stroke-width="1.0" stroke-linejoin="miter"/>
<path d="M234.9 428.9L237.8 435.2L232 435.2Z" fill="#12a014" stroke="#021c02" stroke-width="1.0" stroke-linejoin="miter"/>
<path d="M231 433.3L233.9 439.6L228.1 439.6Z" fill="#12a014" stroke="#021c02" stroke-width="1.0" stroke-linejoin="miter"/>
<path d="M235.4 438.7L238.3 445L232.5 445Z" fill="#12a014" stroke="#021c02" stroke-width="1.0" stroke-linejoin="miter"/>
<path d="M231 444.2L233.9 450.5L228.1 450.5Z" fill="#12a014" stroke="#021c02" stroke-width="1.0" stroke-linejoin="miter"/>
<path d="M52.2 353V509.8H258.5" fill="none" stroke="#1c1c1c" stroke-width="1.15"/>
<line x1="48.8" y1="353.6" x2="52.2" y2="353.6" stroke="#1c1c1c" stroke-width="1.15"/>
<text class="yt" x="48.2" y="357.9" text-anchor="end">32,768</text>
<line x1="48.8" y1="377.7" x2="52.2" y2="377.7" stroke="#1c1c1c" stroke-width="1.15"/>
<text class="yt" x="48.2" y="382" text-anchor="end">8192</text>
<line x1="48.8" y1="401.7" x2="52.2" y2="401.7" stroke="#1c1c1c" stroke-width="1.15"/>
<text class="yt" x="48.2" y="406" text-anchor="end">2048</text>
<line x1="48.8" y1="425.8" x2="52.2" y2="425.8" stroke="#1c1c1c" stroke-width="1.15"/>
<text class="yt" x="48.2" y="430.1" text-anchor="end">512</text>
<line x1="48.8" y1="449.8" x2="52.2" y2="449.8" stroke="#1c1c1c" stroke-width="1.15"/>
<text class="yt" x="48.2" y="454.1" text-anchor="end">128</text>
<line x1="48.8" y1="473.9" x2="52.2" y2="473.9" stroke="#1c1c1c" stroke-width="1.15"/>
<text class="yt" x="48.2" y="478.2" text-anchor="end">32</text>
<line x1="48.8" y1="497.9" x2="52.2" y2="497.9" stroke="#1c1c1c" stroke-width="1.15"/>
<text class="yt" x="48.2" y="502.2" text-anchor="end">8</text>
<line x1="78.2" y1="509.8" x2="78.2" y2="513.4" stroke="#1c1c1c" stroke-width="1.15"/>
<text class="xt" transform="translate(80.1 522.1) rotate(-45)" text-anchor="end">BSL</text>
<line x1="116.9" y1="509.8" x2="116.9" y2="513.4" stroke="#1c1c1c" stroke-width="1.15"/>
<text class="xt" transform="translate(118.8 522.1) rotate(-45)" text-anchor="end">Day 1</text>
<line x1="155.6" y1="509.8" x2="155.6" y2="513.4" stroke="#1c1c1c" stroke-width="1.15"/>
<text class="xt" transform="translate(157.5 522.1) rotate(-45)" text-anchor="end">Day 4</text>
<line x1="194.3" y1="509.8" x2="194.3" y2="513.4" stroke="#1c1c1c" stroke-width="1.15"/>
<text class="xt" transform="translate(196.2 522.1) rotate(-45)" text-anchor="end">Day 7</text>
<line x1="233" y1="509.8" x2="233" y2="513.4" stroke="#1c1c1c" stroke-width="1.15"/>
<text class="xt" transform="translate(234.9 522.1) rotate(-45)" text-anchor="end">Day 28</text>
<text class="yl" transform="translate(13.6 449.4) rotate(-90)" text-anchor="middle">BAU/mL</text>
<line x1="77.9" y1="319.6" x2="233.3" y2="319.6" stroke="#333" stroke-width="1.1"/>
<text class="ns" x="155.6" y="317.3" text-anchor="middle">ns</text>
<line x1="77.9" y1="337.4" x2="194.6" y2="337.4" stroke="#333" stroke-width="1.1"/>
<text class="ns" x="136.2" y="335.1" text-anchor="middle">ns</text>
<line x1="77.9" y1="355.2" x2="155.9" y2="355.2" stroke="#333" stroke-width="1.1"/>
<text class="ns" x="116.9" y="352.9" text-anchor="middle">ns</text>
<line x1="77.9" y1="373" x2="117.2" y2="373" stroke="#333" stroke-width="1.1"/>
<text class="ns" x="97.6" y="370.7" text-anchor="middle">ns</text>
<text class="t" style="font-size:18.9px" x="153.6" y="296.3" text-anchor="middle">Anti-N IgG</text>
<text class="pl" x="20.4" y="296.7">B.</text>
</g>
<g>
<rect x="346.3" y="437.5" width="25.2" height="72.6" fill="#ff7680" stroke="#2a0e10" stroke-width="1.1"/>
<rect x="384.9" y="438.2" width="25.2" height="71.9" fill="#ff7680" stroke="#2a0e10" stroke-width="1.1"/>
<rect x="423.4" y="437.8" width="25.2" height="72.3" fill="#ff7680" stroke="#2a0e10" stroke-width="1.1"/>
<rect x="461.9" y="440.7" width="25.2" height="69.4" fill="#ff7680" stroke="#2a0e10" stroke-width="1.1"/>
<rect x="500.4" y="450.5" width="25.2" height="59.6" fill="#ff7680" stroke="#2a0e10" stroke-width="1.1"/>
<line x1="333" y1="506.6" x2="538.6" y2="506.6" stroke="#ff2a2a" stroke-width="0.8" stroke-opacity="0.5"/>
<path d="M358.7 387.9L361.6 394.2L355.8 394.2Z" fill="#ff1010" stroke="#3a0000" stroke-width="1.0" stroke-linejoin="miter"/>
<path d="M358.7 403.3L361.6 409.6L355.8 409.6Z" fill="#ff1010" stroke="#3a0000" stroke-width="1.0" stroke-linejoin="miter"/>
<path d="M365.3 411.6L368.2 417.9L362.4 417.9Z" fill="#ff1010" stroke="#3a0000" stroke-width="1.0" stroke-linejoin="miter"/>
<path d="M358.7 413.8L361.6 420.1L355.8 420.1Z" fill="#ff1010" stroke="#3a0000" stroke-width="1.0" stroke-linejoin="miter"/>
<path d="M355.4 418.9L358.3 425.2L352.5 425.2Z" fill="#ff1010" stroke="#3a0000" stroke-width="1.0" stroke-linejoin="miter"/>
<path d="M348.8 420.3L351.7 426.6L345.9 426.6Z" fill="#ff1010" stroke="#3a0000" stroke-width="1.0" stroke-linejoin="miter"/>
<path d="M352.2 420.3L355.1 426.6L349.3 426.6Z" fill="#ff1010" stroke="#3a0000" stroke-width="1.0" stroke-linejoin="miter"/>
<path d="M365.3 419.6L368.2 425.9L362.4 425.9Z" fill="#ff1010" stroke="#3a0000" stroke-width="1.0" stroke-linejoin="miter"/>
<path d="M368.5 419.6L371.4 425.9L365.6 425.9Z" fill="#ff1010" stroke="#3a0000" stroke-width="1.0" stroke-linejoin="miter"/>
<path d="M358.7 423.2L361.6 429.5L355.8 429.5Z" fill="#ff1010" stroke="#3a0000" stroke-width="1.0" stroke-linejoin="miter"/>
<path d="M361.9 425.4L364.8 431.7L359 431.7Z" fill="#ff1010" stroke="#3a0000" stroke-width="1.0" stroke-linejoin="miter"/>
<path d="M365.3 426.9L368.2 433.2L362.4 433.2Z" fill="#ff1010" stroke="#3a0000" stroke-width="1.0" stroke-linejoin="miter"/>
<path d="M352.2 427.3L355.1 433.6L349.3 433.6Z" fill="#ff1010" stroke="#3a0000" stroke-width="1.0" stroke-linejoin="miter"/>
<path d="M348.8 435.5L351.7 441.8L345.9 441.8Z" fill="#ff1010" stroke="#3a0000" stroke-width="1.0" stroke-linejoin="miter"/>
<path d="M352.2 434.9L355.1 441.2L349.3 441.2Z" fill="#ff1010" stroke="#3a0000" stroke-width="1.0" stroke-linejoin="miter"/>
<path d="M355.4 433.8L358.3 440.1L352.5 440.1Z" fill="#ff1010" stroke="#3a0000" stroke-width="1.0" stroke-linejoin="miter"/>
<path d="M361.9 435.1L364.8 441.4L359 441.4Z" fill="#ff1010" stroke="#3a0000" stroke-width="1.0" stroke-linejoin="miter"/>
<path d="M365.3 433.8L368.2 440.1L362.4 440.1Z" fill="#ff1010" stroke="#3a0000" stroke-width="1.0" stroke-linejoin="miter"/>
<path d="M368.5 436.7L371.4 443L365.6 443Z" fill="#ff1010" stroke="#3a0000" stroke-width="1.0" stroke-linejoin="miter"/>
<path d="M358.7 439.1L361.6 445.4L355.8 445.4Z" fill="#ff1010" stroke="#3a0000" stroke-width="1.0" stroke-linejoin="miter"/>
<path d="M352.2 442.9L355.1 449.2L349.3 449.2Z" fill="#ff1010" stroke="#3a0000" stroke-width="1.0" stroke-linejoin="miter"/>
<path d="M361.9 442.4L364.8 448.7L359 448.7Z" fill="#ff1010" stroke="#3a0000" stroke-width="1.0" stroke-linejoin="miter"/>
<path d="M348.8 444.9L351.7 451.2L345.9 451.2Z" fill="#ff1010" stroke="#3a0000" stroke-width="1.0" stroke-linejoin="miter"/>
<path d="M355.4 445L358.3 451.3L352.5 451.3Z" fill="#ff1010" stroke="#3a0000" stroke-width="1.0" stroke-linejoin="miter"/>
<path d="M365.3 444.6L368.2 450.9L362.4 450.9Z" fill="#ff1010" stroke="#3a0000" stroke-width="1.0" stroke-linejoin="miter"/>
<path d="M368.5 444.1L371.4 450.4L365.6 450.4Z" fill="#ff1010" stroke="#3a0000" stroke-width="1.0" stroke-linejoin="miter"/>
<path d="M358.7 447.4L361.6 453.7L355.8 453.7Z" fill="#ff1010" stroke="#3a0000" stroke-width="1.0" stroke-linejoin="miter"/>
<path d="M355.4 454.7L358.3 461L352.5 461Z" fill="#ff1010" stroke="#3a0000" stroke-width="1.0" stroke-linejoin="miter"/>
<path d="M358.7 454.7L361.6 461L355.8 461Z" fill="#ff1010" stroke="#3a0000" stroke-width="1.0" stroke-linejoin="miter"/>
<path d="M361.9 457.2L364.8 463.5L359 463.5Z" fill="#ff1010" stroke="#3a0000" stroke-width="1.0" stroke-linejoin="miter"/>
<path d="M360.5 468.4L363.4 474.7L357.6 474.7Z" fill="#ff1010" stroke="#3a0000" stroke-width="1.0" stroke-linejoin="miter"/>
<path d="M357.1 471.7L360 478L354.2 478Z" fill="#ff1010" stroke="#3a0000" stroke-width="1.0" stroke-linejoin="miter"/>
<path d="M397.3 384.7L400.2 391L394.4 391Z" fill="#ff1010" stroke="#3a0000" stroke-width="1.0" stroke-linejoin="miter"/>
<path d="M397.3 402.2L400.2 408.5L394.4 408.5Z" fill="#ff1010" stroke="#3a0000" stroke-width="1.0" stroke-linejoin="miter"/>
<path d="M399 409.4L401.9 415.7L396.1 415.7Z" fill="#ff1010" stroke="#3a0000" stroke-width="1.0" stroke-linejoin="miter"/>
<path d="M395.4 410.9L398.3 417.2L392.5 417.2Z" fill="#ff1010" stroke="#3a0000" stroke-width="1.0" stroke-linejoin="miter"/>
<path d="M400.5 416.7L403.4 423L397.6 423Z" fill="#ff1010" stroke="#3a0000" stroke-width="1.0" stroke-linejoin="miter"/>
<path d="M397.3 419.2L400.2 425.5L394.4 425.5Z" fill="#ff1010" stroke="#3a0000" stroke-width="1.0" stroke-linejoin="miter"/>
<path d="M393.9 421.8L396.8 428.1L391 428.1Z" fill="#ff1010" stroke="#3a0000" stroke-width="1.0" stroke-linejoin="miter"/>
<path d="M400.5 424.7L403.4 431L397.6 431Z" fill="#ff1010" stroke="#3a0000" stroke-width="1.0" stroke-linejoin="miter"/>
<path d="M403.7 427.6L406.6 433.9L400.8 433.9Z" fill="#ff1010" stroke="#3a0000" stroke-width="1.0" stroke-linejoin="miter"/>
<path d="M390.7 429.1L393.6 435.4L387.8 435.4Z" fill="#ff1010" stroke="#3a0000" stroke-width="1.0" stroke-linejoin="miter"/>
<path d="M393.9 428.8L396.8 435.1L391 435.1Z" fill="#ff1010" stroke="#3a0000" stroke-width="1.0" stroke-linejoin="miter"/>
<path d="M407 433L409.9 439.3L404.1 439.3Z" fill="#ff1010" stroke="#3a0000" stroke-width="1.0" stroke-linejoin="miter"/>
<path d="M397.3 434.5L400.2 440.8L394.4 440.8Z" fill="#ff1010" stroke="#3a0000" stroke-width="1.0" stroke-linejoin="miter"/>
<path d="M400.5 435.1L403.4 441.4L397.6 441.4Z" fill="#ff1010" stroke="#3a0000" stroke-width="1.0" stroke-linejoin="miter"/>
<path d="M387.4 437.1L390.3 443.4L384.5 443.4Z" fill="#ff1010" stroke="#3a0000" stroke-width="1.0" stroke-linejoin="miter"/>
<path d="M393.9 436.5L396.8 442.8L391 442.8Z" fill="#ff1010" stroke="#3a0000" stroke-width="1.0" stroke-linejoin="miter"/>
<path d="M390.7 439.6L393.6 445.9L387.8 445.9Z" fill="#ff1010" stroke="#3a0000" stroke-width="1.0" stroke-linejoin="miter"/>
<path d="M403.7 438.3L406.6 444.6L400.8 444.6Z" fill="#ff1010" stroke="#3a0000" stroke-width="1.0" stroke-linejoin="miter"/>
<path d="M397.3 442.7L400.2 449L394.4 449Z" fill="#ff1010" stroke="#3a0000" stroke-width="1.0" stroke-linejoin="miter"/>
<path d="M387.4 444.2L390.3 450.5L384.5 450.5Z" fill="#ff1010" stroke="#3a0000" stroke-width="1.0" stroke-linejoin="miter"/>
<path d="M407 440.7L409.9 447L404.1 447Z" fill="#ff1010" stroke="#3a0000" stroke-width="1.0" stroke-linejoin="miter"/>
<path d="M400.5 444.9L403.4 451.2L397.6 451.2Z" fill="#ff1010" stroke="#3a0000" stroke-width="1.0" stroke-linejoin="miter"/>
<path d="M403.7 445L406.6 451.3L400.8 451.3Z" fill="#ff1010" stroke="#3a0000" stroke-width="1.0" stroke-linejoin="miter"/>
<path d="M393.9 446.2L396.8 452.5L391 452.5Z" fill="#ff1010" stroke="#3a0000" stroke-width="1.0" stroke-linejoin="miter"/>
<path d="M407 448.4L409.9 454.7L404.1 454.7Z" fill="#ff1010" stroke="#3a0000" stroke-width="1.0" stroke-linejoin="miter"/>
<path d="M390.7 448.9L393.6 455.2L387.8 455.2Z" fill="#ff1010" stroke="#3a0000" stroke-width="1.0" stroke-linejoin="miter"/>
<path d="M397.3 449.9L400.2 456.2L394.4 456.2Z" fill="#ff1010" stroke="#3a0000" stroke-width="1.0" stroke-linejoin="miter"/>
<path d="M393.9 453.8L396.8 460.1L391 460.1Z" fill="#ff1010" stroke="#3a0000" stroke-width="1.0" stroke-linejoin="miter"/>
<path d="M400.5 454.2L403.4 460.5L397.6 460.5Z" fill="#ff1010" stroke="#3a0000" stroke-width="1.0" stroke-linejoin="miter"/>
<path d="M399 467.3L401.9 473.6L396.1 473.6Z" fill="#ff1010" stroke="#3a0000" stroke-width="1.0" stroke-linejoin="miter"/>
<path d="M395.4 473.9L398.3 480.2L392.5 480.2Z" fill="#ff1010" stroke="#3a0000" stroke-width="1.0" stroke-linejoin="miter"/>
<path d="M435.7 395.7L438.6 402L432.8 402Z" fill="#ff1010" stroke="#3a0000" stroke-width="1.0" stroke-linejoin="miter"/>
<path d="M435.7 411.2L438.6 417.5L432.8 417.5Z" fill="#ff1010" stroke="#3a0000" stroke-width="1.0" stroke-linejoin="miter"/>
<path d="M435.7 418.6L438.6 424.9L432.8 424.9Z" fill="#ff1010" stroke="#3a0000" stroke-width="1.0" stroke-linejoin="miter"/>
<path d="M432.5 424.3L435.4 430.6L429.6 430.6Z" fill="#ff1010" stroke="#3a0000" stroke-width="1.0" stroke-linejoin="miter"/>
<path d="M439 426.9L441.9 433.2L436.1 433.2Z" fill="#ff1010" stroke="#3a0000" stroke-width="1.0" stroke-linejoin="miter"/>
<path d="M429.2 429.1L432.1 435.4L426.3 435.4Z" fill="#ff1010" stroke="#3a0000" stroke-width="1.0" stroke-linejoin="miter"/>
<path d="M435.7 429.1L438.6 435.4L432.8 435.4Z" fill="#ff1010" stroke="#3a0000" stroke-width="1.0" stroke-linejoin="miter"/>
<path d="M442.3 429.1L445.2 435.4L439.4 435.4Z" fill="#ff1010" stroke="#3a0000" stroke-width="1.0" stroke-linejoin="miter"/>
<path d="M445.5 428.6L448.4 434.9L442.6 434.9Z" fill="#ff1010" stroke="#3a0000" stroke-width="1.0" stroke-linejoin="miter"/>
<path d="M425.9 431.2L428.8 437.5L423 437.5Z" fill="#ff1010" stroke="#3a0000" stroke-width="1.0" stroke-linejoin="miter"/>
<path d="M432.5 432.3L435.4 438.6L429.6 438.6Z" fill="#ff1010" stroke="#3a0000" stroke-width="1.0" stroke-linejoin="miter"/>
<path d="M439 433.4L441.9 439.7L436.1 439.7Z" fill="#ff1010" stroke="#3a0000" stroke-width="1.0" stroke-linejoin="miter"/>
<path d="M434.2 439.3L437.1 445.6L431.3 445.6Z" fill="#ff1010" stroke="#3a0000" stroke-width="1.0" stroke-linejoin="miter"/>
<path d="M437.5 440.4L440.4 446.7L434.6 446.7Z" fill="#ff1010" stroke="#3a0000" stroke-width="1.0" stroke-linejoin="miter"/>
<path d="M432.5 445.4L435.4 451.7L429.6 451.7Z" fill="#ff1010" stroke="#3a0000" stroke-width="1.0" stroke-linejoin="miter"/>
<path d="M429.2 447.6L432.1 453.9L426.3 453.9Z" fill="#ff1010" stroke="#3a0000" stroke-width="1.0" stroke-linejoin="miter"/>
<path d="M435.7 448.7L438.6 455L432.8 455Z" fill="#ff1010" stroke="#3a0000" stroke-width="1.0" stroke-linejoin="miter"/>
<path d="M439 447L441.9 453.3L436.1 453.3Z" fill="#ff1010" stroke="#3a0000" stroke-width="1.0" stroke-linejoin="miter"/>
<path d="M442.3 448.1L445.2 454.4L439.4 454.4Z" fill="#ff1010" stroke="#3a0000" stroke-width="1.0" stroke-linejoin="miter"/>
<path d="M437.5 459.6L440.4 465.9L434.6 465.9Z" fill="#ff1010" stroke="#3a0000" stroke-width="1.0" stroke-linejoin="miter"/>
<path d="M434.2 462.9L437.1 469.2L431.3 469.2Z" fill="#ff1010" stroke="#3a0000" stroke-width="1.0" stroke-linejoin="miter"/>
<path d="M474.3 394.6L477.2 400.9L471.4 400.9Z" fill="#ff1010" stroke="#3a0000" stroke-width="1.0" stroke-linejoin="miter"/>
<path d="M474.3 404.6L477.2 410.9L471.4 410.9Z" fill="#ff1010" stroke="#3a0000" stroke-width="1.0" stroke-linejoin="miter"/>
<path d="M474.3 412.7L477.2 419L471.4 419Z" fill="#ff1010" stroke="#3a0000" stroke-width="1.0" stroke-linejoin="miter"/>
<path d="M464.7 421.4L467.6 427.7L461.8 427.7Z" fill="#ff1010" stroke="#3a0000" stroke-width="1.0" stroke-linejoin="miter"/>
<path d="M468.5 422.1L471.4 428.4L465.6 428.4Z" fill="#ff1010" stroke="#3a0000" stroke-width="1.0" stroke-linejoin="miter"/>
<path d="M476.5 421L479.4 427.3L473.6 427.3Z" fill="#ff1010" stroke="#3a0000" stroke-width="1.0" stroke-linejoin="miter"/>
<path d="M480.5 423L483.4 429.3L477.6 429.3Z" fill="#ff1010" stroke="#3a0000" stroke-width="1.0" stroke-linejoin="miter"/>
<path d="M484.4 422.5L487.3 428.8L481.5 428.8Z" fill="#ff1010" stroke="#3a0000" stroke-width="1.0" stroke-linejoin="miter"/>
<path d="M472.4 426.9L475.3 433.2L469.5 433.2Z" fill="#ff1010" stroke="#3a0000" stroke-width="1.0" stroke-linejoin="miter"/>
<path d="M476.5 429.1L479.4 435.4L473.6 435.4Z" fill="#ff1010" stroke="#3a0000" stroke-width="1.0" stroke-linejoin="miter"/>
<path d="M464.7 435.2L467.6 441.5L461.8 441.5Z" fill="#ff1010" stroke="#3a0000" stroke-width="1.0" stroke-linejoin="miter"/>
<path d="M484.4 435.2L487.3 441.5L481.5 441.5Z" fill="#ff1010" stroke="#3a0000" stroke-width="1.0" stroke-linejoin="miter"/>
<path d="M480.5 436.3L483.4 442.6L477.6 442.6Z" fill="#ff1010" stroke="#3a0000" stroke-width="1.0" stroke-linejoin="miter"/>
<path d="M476.5 437.8L479.4 444.1L473.6 444.1Z" fill="#ff1010" stroke="#3a0000" stroke-width="1.0" stroke-linejoin="miter"/>
<path d="M472.4 438.9L475.3 445.2L469.5 445.2Z" fill="#ff1010" stroke="#3a0000" stroke-width="1.0" stroke-linejoin="miter"/>
<path d="M472.4 447.6L475.3 453.9L469.5 453.9Z" fill="#ff1010" stroke="#3a0000" stroke-width="1.0" stroke-linejoin="miter"/>
<path d="M476.5 448.3L479.4 454.6L473.6 454.6Z" fill="#ff1010" stroke="#3a0000" stroke-width="1.0" stroke-linejoin="miter"/>
<path d="M468.5 452L471.4 458.3L465.6 458.3Z" fill="#ff1010" stroke="#3a0000" stroke-width="1.0" stroke-linejoin="miter"/>
<path d="M476.5 454.6L479.4 460.9L473.6 460.9Z" fill="#ff1010" stroke="#3a0000" stroke-width="1.0" stroke-linejoin="miter"/>
<path d="M472.4 460.7L475.3 467L469.5 467Z" fill="#ff1010" stroke="#3a0000" stroke-width="1.0" stroke-linejoin="miter"/>
<path d="M474.2 479L477.1 485.3L471.3 485.3Z" fill="#ff1010" stroke="#3a0000" stroke-width="1.0" stroke-linejoin="miter"/>
<path d="M474.6 503.1L477.5 509.4L471.7 509.4Z" fill="#ff1010" stroke="#3a0000" stroke-width="1.0" stroke-linejoin="miter"/>
<path d="M513.2 424L516.1 430.3L510.3 430.3Z" fill="#ff1010" stroke="#3a0000" stroke-width="1.0" stroke-linejoin="miter"/>
<path d="M509.5 435.2L512.4 441.5L506.6 441.5Z" fill="#ff1010" stroke="#3a0000" stroke-width="1.0" stroke-linejoin="miter"/>
<path d="M523 436.1L525.9 442.4L520.1 442.4Z" fill="#ff1010" stroke="#3a0000" stroke-width="1.0" stroke-linejoin="miter"/>
<path d="M516 439.5L518.9 445.8L513.1 445.8Z" fill="#ff1010" stroke="#3a0000" stroke-width="1.0" stroke-linejoin="miter"/>
<path d="M502.9 441.1L505.8 447.4L500 447.4Z" fill="#ff1010" stroke="#3a0000" stroke-width="1.0" stroke-linejoin="miter"/>
<path d="M523 444.3L525.9 450.6L520.1 450.6Z" fill="#ff1010" stroke="#3a0000" stroke-width="1.0" stroke-linejoin="miter"/>
<path d="M516 446.1L518.9 452.4L513.1 452.4Z" fill="#ff1010" stroke="#3a0000" stroke-width="1.0" stroke-linejoin="miter"/>
<path d="M509.5 452.6L512.4 458.9L506.6 458.9Z" fill="#ff1010" stroke="#3a0000" stroke-width="1.0" stroke-linejoin="miter"/>
<path d="M516 454.2L518.9 460.5L513.1 460.5Z" fill="#ff1010" stroke="#3a0000" stroke-width="1.0" stroke-linejoin="miter"/>
<path d="M509.5 459.2L512.4 465.5L506.6 465.5Z" fill="#ff1010" stroke="#3a0000" stroke-width="1.0" stroke-linejoin="miter"/>
<path d="M516 462.9L518.9 469.2L513.1 469.2Z" fill="#ff1010" stroke="#3a0000" stroke-width="1.0" stroke-linejoin="miter"/>
<path d="M512.6 474.9L515.5 481.2L509.7 481.2Z" fill="#ff1010" stroke="#3a0000" stroke-width="1.0" stroke-linejoin="miter"/>
<path d="M333 354.1V510.1H538.6" fill="none" stroke="#1c1c1c" stroke-width="1.15"/>
<line x1="329.6" y1="354.7" x2="333" y2="354.7" stroke="#1c1c1c" stroke-width="1.15"/>
<text class="yt" x="329" y="359" text-anchor="end">32,768</text>
<line x1="329.6" y1="378.6" x2="333" y2="378.6" stroke="#1c1c1c" stroke-width="1.15"/>
<text class="yt" x="329" y="382.9" text-anchor="end">8192</text>
<line x1="329.6" y1="402.5" x2="333" y2="402.5" stroke="#1c1c1c" stroke-width="1.15"/>
<text class="yt" x="329" y="406.8" text-anchor="end">2048</text>
<line x1="329.6" y1="426.4" x2="333" y2="426.4" stroke="#1c1c1c" stroke-width="1.15"/>
<text class="yt" x="329" y="430.7" text-anchor="end">512</text>
<line x1="329.6" y1="450.3" x2="333" y2="450.3" stroke="#1c1c1c" stroke-width="1.15"/>
<text class="yt" x="329" y="454.6" text-anchor="end">128</text>
<line x1="329.6" y1="474.2" x2="333" y2="474.2" stroke="#1c1c1c" stroke-width="1.15"/>
<text class="yt" x="329" y="478.5" text-anchor="end">32</text>
<line x1="329.6" y1="498.1" x2="333" y2="498.1" stroke="#1c1c1c" stroke-width="1.15"/>
<text class="yt" x="329" y="502.4" text-anchor="end">8</text>
<line x1="358.9" y1="510.1" x2="358.9" y2="513.7" stroke="#1c1c1c" stroke-width="1.15"/>
<text class="xt" transform="translate(360.8 522.4) rotate(-45)" text-anchor="end">BSL</text>
<line x1="397.5" y1="510.1" x2="397.5" y2="513.7" stroke="#1c1c1c" stroke-width="1.15"/>
<text class="xt" transform="translate(399.4 522.4) rotate(-45)" text-anchor="end">Day 1</text>
<line x1="436" y1="510.1" x2="436" y2="513.7" stroke="#1c1c1c" stroke-width="1.15"/>
<text class="xt" transform="translate(437.9 522.4) rotate(-45)" text-anchor="end">Day 4</text>
<line x1="474.5" y1="510.1" x2="474.5" y2="513.7" stroke="#1c1c1c" stroke-width="1.15"/>
<text class="xt" transform="translate(476.4 522.4) rotate(-45)" text-anchor="end">Day 7</text>
<line x1="513" y1="510.1" x2="513" y2="513.7" stroke="#1c1c1c" stroke-width="1.15"/>
<text class="xt" transform="translate(514.9 522.4) rotate(-45)" text-anchor="end">Day 28</text>
<text class="yl" transform="translate(295 449.5) rotate(-90)" text-anchor="middle">AU/mL</text>
<line x1="358.6" y1="327.2" x2="513.3" y2="327.2" stroke="#333" stroke-width="1.1"/>
<text class="ns" x="435.9" y="324.9" text-anchor="middle">ns</text>
<line x1="358.6" y1="345" x2="474.8" y2="345" stroke="#333" stroke-width="1.1"/>
<text class="ns" x="416.7" y="342.7" text-anchor="middle">ns</text>
<line x1="358.6" y1="362.8" x2="436.3" y2="362.8" stroke="#333" stroke-width="1.1"/>
<text class="ns" x="397.4" y="360.5" text-anchor="middle">ns</text>
<line x1="358.6" y1="380.7" x2="397.8" y2="380.7" stroke="#333" stroke-width="1.1"/>
<text class="ns" x="378.2" y="378.4" text-anchor="middle">ns</text>
<text class="t" style="font-size:18.95px" x="443.4" y="297.4" text-anchor="middle">Anti-N IgA</text>
</g>
</svg></body></html>
